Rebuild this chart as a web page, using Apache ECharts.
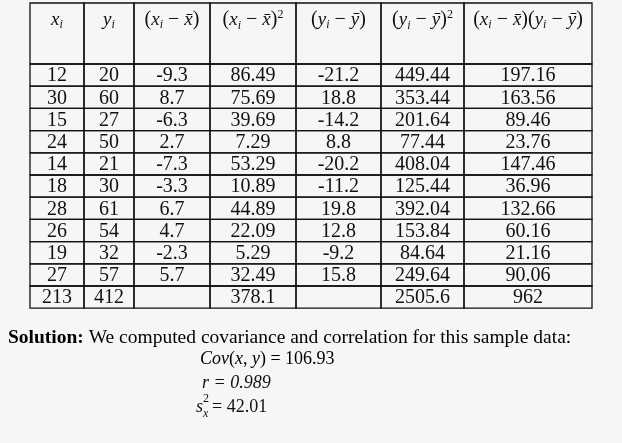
<!DOCTYPE html>
<html><head><meta charset="utf-8">
<script src="https://cdn.jsdelivr.net/npm/echarts@6/dist/echarts.min.js"></script>
<style>html,body{margin:0;background:#f6f6f6}#c{width:622px;height:443px}</style>
</head><body><div id="c"></div>
<script>
const xi=["12","30","15","24","14","18","28","26","19","27","213"];
const yi=["20","60","27","50","21","30","61","54","32","57","412"];
const dx=["-9.3","8.7","-6.3","2.7","-7.3","-3.3","6.7","4.7","-2.3","5.7",""];
const dx2=["86.49","75.69","39.69","7.29","53.29","10.89","44.89","22.09","5.29","32.49","378.1"];
const dy=["-21.2","18.8","-14.2","8.8","-20.2","-11.2","19.8","12.8","-9.2","15.8",""];
const dy2=["449.44","353.44","201.64","77.44","408.04","125.44","392.04","153.84","84.64","249.64","2505.6"];
const dxdy=["197.16","163.56","89.46","23.76","147.46","36.96","132.66","60.16","21.16","90.06","962"];
const cols=[xi,yi,dx,dx2,dy,dy2,dxdy];
// header, rich-text
const headers=[
  "{i|x}{s|i}","{i|y}{s|i}","({i|x}{s|i} − {i|x̄})","({i|x}{s|i} − {i|x̄}){p|2}",
  "({i|y}{s|i} − {i|ȳ})","({i|y}{s|i} − {i|ȳ}){p|2}","({i|x}{s|i} − {i|x̄})({i|y}{s|i} − {i|ȳ})"
];

// layout
const edges=[30,84,134,210,296,381,464,592];
const top0=3, headH=61, rowH=22.2;

const cells=[];
headers.forEach((h,c)=>cells.push([c,-1,h]));
cols.forEach((col,c)=>col.forEach((v,r)=>cells.push([c,r,v])));

const serif='"Liberation Serif","DejaVu Serif",serif';
const rich={i:{fontStyle:'italic',fontFamily:serif,fontSize:19,color:'#111'},
  s:{fontStyle:'italic',fontFamily:serif,fontSize:12,verticalAlign:'bottom',padding:[9,0,0,0],color:'#111'},
  p:{fontFamily:serif,fontSize:12,verticalAlign:'top',padding:[0,0,11,0],color:'#111'}};

echarts.init(document.getElementById('c')).setOption({
  backgroundColor:'#f6f6f6',
  animation:false,
  xAxis:{show:false,min:0,max:1},yAxis:{show:false,min:0,max:1},
  grid:{left:0,right:0,top:0,bottom:0},
  series:[{type:'custom',data:cells,renderItem:(p,api)=>{
    const c=api.value(0), r=api.value(1), t=cells[p.dataIndex][2];
    const x=edges[c], w=edges[c+1]-edges[c];
    const y=r<0?top0:top0+headH+r*rowH, h=r<0?headH:rowH;
    return {type:'group',children:[
      {type:'rect',shape:{x,y,width:w,height:h},style:{fill:'none',stroke:'#111',lineWidth:1.3}},
      {type:'text',x:x+w/2,y:r<0?y+17:y+h/2+1,style:{text:t,align:'center',verticalAlign:'middle',
        font:'20px '+serif,fill:'#111',fontSize:20,fontFamily:serif,rich:r<0?rich:undefined}}
    ]};
  }}],
  graphic:[
    {type:'text',left:8,top:328,style:{rich:{b:{fontWeight:'bold',fontFamily:serif,fontSize:19.5,color:'#111'},n:{fontFamily:serif,fontSize:19.5,color:'#111'}},
      text:'{b|Solution:}{n| We computed covariance and correlation for this sample data:}'}},
    {type:'text',left:200,top:350,style:{rich:{i:{fontStyle:'italic',fontFamily:serif,fontSize:18,color:'#111'},n:{fontFamily:serif,fontSize:18,color:'#111'}},
      text:'{i|Cov}{n|(}{i|x}{n|, }{i|y}{n|) = 106.93}'}},
    {type:'text',left:202,top:374,style:{font:'italic 18px '+serif,fill:'#111',text:'r = 0.989'}},
    {type:'text',left:196,top:398,style:{font:'italic 18px '+serif,fill:'#111',text:'s'}},
    {type:'text',left:203,top:393,style:{font:'12px '+serif,fill:'#111',text:'2'}},
    {type:'text',left:203,top:408,style:{font:'italic 12px '+serif,fill:'#111',text:'x'}},
    {type:'text',left:212,top:398,style:{font:'18px '+serif,fill:'#111',text:'= 42.01'}}
  ]
});
</script></body></html>
